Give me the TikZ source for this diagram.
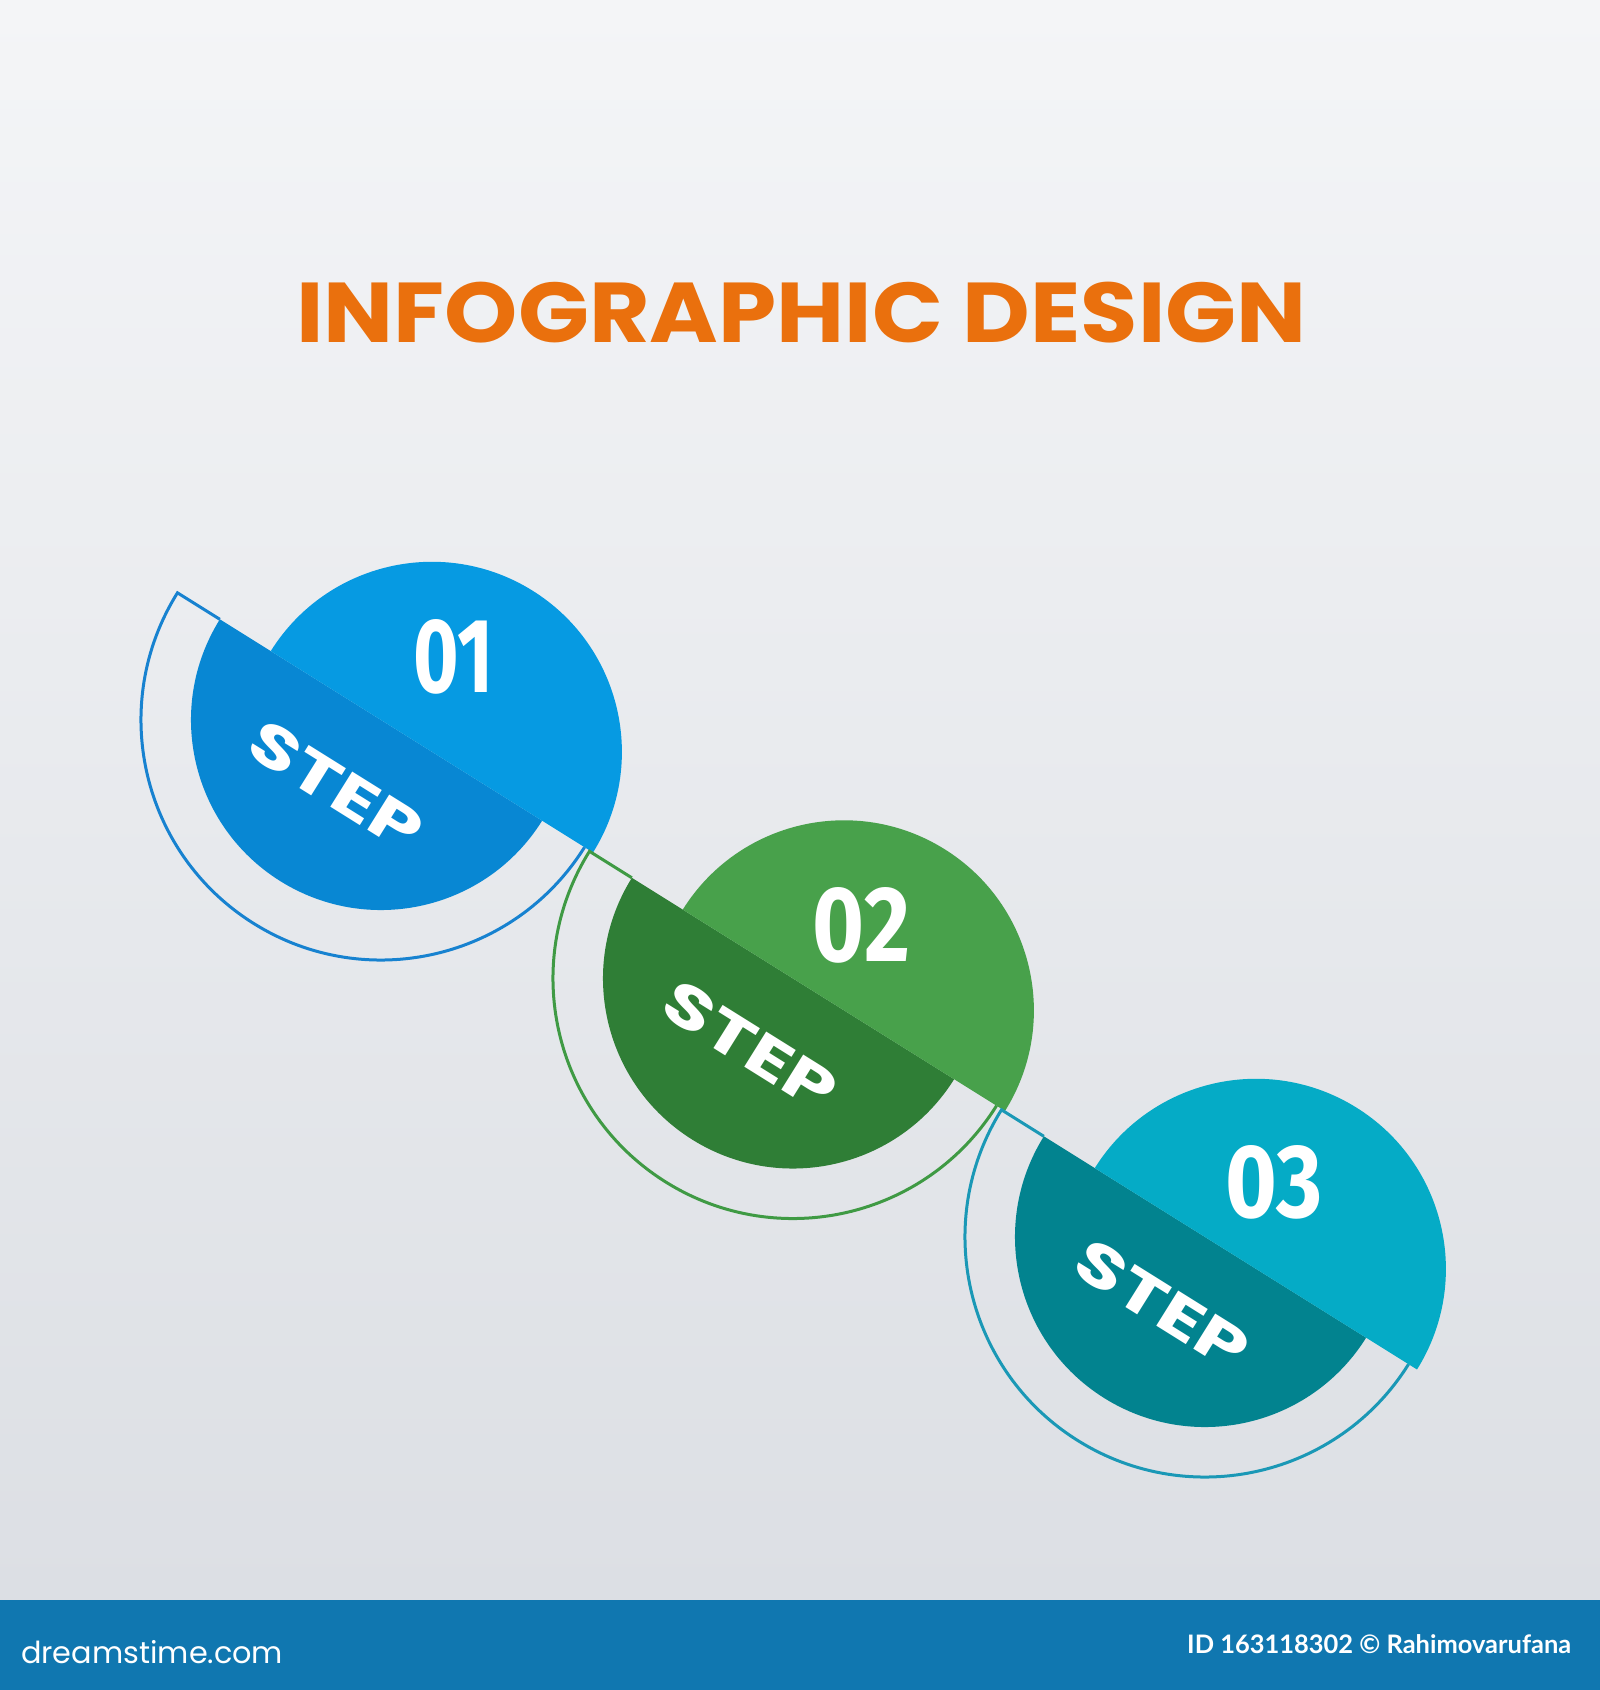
\documentclass[tikz,border=0pt]{standalone}
\usepackage{fontspec}
\usetikzlibrary{calc}
\newfontfamily\popfont{Poppins}
\newfontfamily\firafont{Fira Sans}
\newfontfamily\latofont{Lato}
\definecolor{bgtop}{HTML}{F4F5F7}
\definecolor{bgbot}{HTML}{DCDFE4}
\definecolor{barblue}{HTML}{1077B0}
\definecolor{titleor}{HTML}{EA700D}
\definecolor{blueL}{HTML}{069AE2}
\definecolor{blueD}{HTML}{0887D3}
\definecolor{blueR}{HTML}{1782D0}
\definecolor{greenL}{HTML}{48A14B}
\definecolor{greenD}{HTML}{2F7E36}
\definecolor{greenR}{HTML}{3F9A44}
\definecolor{tealL}{HTML}{05ABC6}
\definecolor{tealD}{HTML}{02838F}
\definecolor{tealR}{HTML}{1A98B6}
\newcommand\stepdisc[4]{%
  \draw[ring, #4] ($(#1)+(212:190)$) -- ($(#1)+(212:240)$) arc[start angle=212, end angle=32, radius=240];
  \fill[#2] ($(#1)+(32:190)$) arc[start angle=32, end angle=212, radius=190] -- cycle;
  \fill[#3] ($(#1)+(32:60)+(212:190)$) arc[start angle=212, end angle=392, radius=190] -- cycle;
}
\newcommand\steptext{\resizebox{192pt}{42pt}{\popfont\bfseries STEP}}
\begin{document}
\begin{tikzpicture}[x=1pt,y=-1pt,
  ring/.style={line width=3pt},
  digits/.style={text=white, inner sep=0pt},
  steplabel/.style={text=white, inner sep=0pt, rotate=-32},
  footer/.style={text=white, inner sep=0pt, anchor=base west}]
\useasboundingbox (0,0) rectangle (1600,1690);
\shade[top color=bgtop, bottom color=bgbot] (0,0) rectangle (1600,1600);
\fill[barblue] (0,1600) rectangle (1600,1690);

\coordinate (c1) at (381,720);
\coordinate (c2) at (793,978.5);
\coordinate (c3) at (1205,1237);

\stepdisc{c1}{blueD}{blueL}{blueR}
\stepdisc{c2}{greenD}{greenL}{greenR}
\stepdisc{c3}{tealD}{tealL}{tealR}

\node[text=titleor, inner sep=0pt] (title) at (801.6,312.7)
  {\resizebox{1010pt}{60.4pt}{\popfont\bfseries INFOGRAPHIC DESIGN}};

\node[digits] (n1) at (454,657) {\resizebox{80pt}{73pt}{\firafont\bfseries 01}};
\node[digits] (n2) at (861.5,925.5) {\resizebox{97pt}{74pt}{\firafont\bfseries 02}};
\node[digits] (n3) at (1274,1182) {\resizebox{97pt}{72pt}{\firafont\bfseries 03}};

\node[steplabel] (s1) at (336,786) {\steptext};
\node[steplabel] (s2) at (750,1046) {\steptext};
\node[steplabel] (s3) at (1162,1305) {\steptext};

\node[footer] (brand) at (21,1663) {\resizebox{262pt}{!}{\popfont dreamstime.com}};
\node[footer] (credit) at (1187,1653.5) {\resizebox{384pt}{!}{\latofont\bfseries ID 163118302 © Rahimovarufana}};
\end{tikzpicture}
\end{document}
